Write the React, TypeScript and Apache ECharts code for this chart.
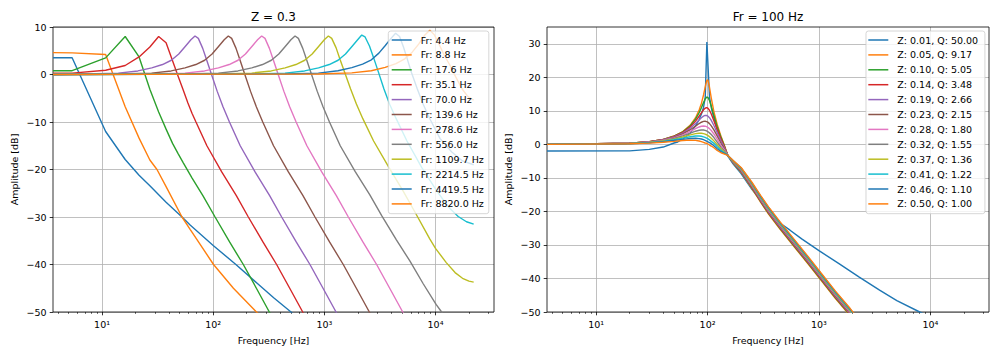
import React, { useEffect, useRef } from 'react';
import * as echarts from 'echarts';

const FONT = 'DejaVu Sans';
const COLORS = ['#1f77b4', '#ff7f0e', '#2ca02c', '#d62728', '#9467bd', '#8c564b', '#e377c2', '#7f7f7f', '#bcbd22', '#17becf', '#1f77b4', '#ff7f0e'];

const leftTitle = 'Z = 0.3';
const rightTitle = 'Fr = 100 Hz';
const xName = 'Frequency [Hz]';
const yName = 'Amplitude [dB]';

const freqMin = 3.62;
const freqMax = 33600;
const majorFreqTicks = [10, 100, 1000, 10000];
const minorFreqTicks = [4, 5, 6, 7, 8, 9, 20, 30, 40, 50, 60, 70, 80, 90, 200, 300, 400, 500, 600, 700, 800, 900, 2000, 3000, 4000, 5000, 6000, 7000, 8000, 9000, 20000, 30000];
const leftYTicks = [-50, -40, -30, -20, -10, 0, 10];
const rightYTicks = [-50, -40, -30, -20, -10, 0, 10, 20, 30];

const leftLabels = ['Fr: 4.4 Hz', 'Fr: 8.8 Hz', 'Fr: 17.6 Hz', 'Fr: 35.1 Hz', 'Fr: 70.0 Hz', 'Fr: 139.6 Hz', 'Fr: 278.6 Hz', 'Fr: 556.0 Hz', 'Fr: 1109.7 Hz', 'Fr: 2214.5 Hz', 'Fr: 4419.5 Hz', 'Fr: 8820.0 Hz'];
const rightLabels = ['Z: 0.01, Q: 50.00', 'Z: 0.05, Q: 9.17', 'Z: 0.10, Q: 5.05', 'Z: 0.14, Q: 3.48', 'Z: 0.19, Q: 2.66', 'Z: 0.23, Q: 2.15', 'Z: 0.28, Q: 1.80', 'Z: 0.32, Q: 1.55', 'Z: 0.37, Q: 1.36', 'Z: 0.41, Q: 1.22', 'Z: 0.46, Q: 1.10', 'Z: 0.50, Q: 1.00'];

// ---- Left panel: [frequency Hz, amplitude dB]
const fr4_4 = [[3.62, 3.54], [5.38, 3.54], [10.77, -12.0], [16.15, -17.9], [21.53, -21.2], [26.92, -23.4], [37.68, -26.9], [52.4, -30.0], [62, -31.7], [100, -36.0], [160, -40.0], [250, -44.0], [350, -47.0], [501, -50.0], [700, -52.9]];
const fr8_8 = [[3.62, 4.6], [5.38, 4.55], [10.77, 4.2], [16.15, -6.8], [21.53, -13.4], [26.92, -18.0], [31.2, -20.0], [37.68, -23.6], [52.4, -30.0], [62, -32.6], [75, -35.5], [100.7, -40.0], [152, -45.0], [245, -50.0], [320, -52.5]];
const fr17_6 = [[3.62, 0.8], [5.38, 0.8], [10.77, 3.5], [16.15, 8.0], [21.53, 3.7], [26.92, -3.1], [32.3, -7.9], [37.68, -11.5], [43.07, -14.5], [48.45, -16.7], [53.83, -18.6], [64.6, -21.8], [80.75, -25.5], [104, -30.0], [140.8, -35.3], [186.6, -40.0], [244.6, -45.0], [320, -50.0], [440, -55.5]];
const fr35_1 = [[3.62, 0.3], [5.38, 0.3], [10.77, 0.9], [16.15, 1.9], [21.53, 3.7], [26.92, 5.8], [32.3, 8.0], [37.68, 6.7], [43.07, 2.9], [48.45, -0.4], [53.83, -3.3], [59.22, -6.0], [64.6, -8.2], [69.98, -10.0], [87.75, -15.0], [119.3, -20.5], [161.5, -25.5], [207, -30.0], [281, -35.3], [372, -40.0], [488, -45.0], [639, -50.0], [877, -55.5]];
const fr70 = [[3.62, 0.0], [7, 0.1], [14, 0.3], [21, 0.75], [28, 1.4], [35, 2.1], [42, 3.0], [49, 4.3], [56, 5.9], [63, 7.3], [68.6, 8.1], [73.5, 7.6], [80.5, 5.5], [87.5, 3.0], [96.6, 0.0], [108.5, -3.5], [122.5, -6.8], [140, -10.0], [175, -15.0], [238, -20.5], [322, -25.5], [413, -30.0], [560, -35.3], [742, -40.0], [973, -45.0], [1274, -50.0], [1750, -55.5]];
const fr139_6 = [[3.62, 0.0], [14, 0.1], [27.9, 0.3], [41.9, 0.75], [55.8, 1.4], [69.8, 2.1], [83.8, 3.0], [97.7, 4.3], [111.7, 5.9], [125.6, 7.3], [136.8, 8.1], [146.6, 7.6], [160.5, 5.5], [174.5, 3.0], [192.6, 0.0], [216.4, -3.5], [244.3, -6.8], [279.2, -10.0], [349, -15.0], [474.6, -20.5], [642.2, -25.5], [823.6, -30.0], [1116.8, -35.3], [1479.8, -40.0], [1940.4, -45.0], [2540.7, -50.0], [3490, -55.5]];
const fr278_6 = [[3.62, 0.0], [27.9, 0.1], [55.7, 0.3], [83.6, 0.75], [111.4, 1.4], [139.3, 2.1], [167.2, 3.0], [195, 4.3], [222.9, 5.9], [250.7, 7.3], [273, 8.1], [292.5, 7.6], [320.4, 5.5], [348.3, 3.0], [384.5, 0.0], [431.8, -3.5], [487.6, -6.8], [557.2, -10.0], [696.5, -15.0], [947.2, -20.5], [1281.6, -25.5], [1643.7, -30.0], [2228.8, -35.3], [2953, -40.0], [3872.5, -45.0], [5070.5, -50.0], [6965, -55.5]];
const fr556 = [[3.62, 0.0], [55.6, 0.1], [111.2, 0.3], [166.8, 0.75], [222.4, 1.4], [278, 2.1], [333.6, 3.0], [389.2, 4.3], [444.8, 5.9], [500.4, 7.3], [544.9, 8.1], [583.8, 7.6], [639.4, 5.5], [695, 3.0], [767.3, 0.0], [861.8, -3.5], [973, -6.8], [1112, -10.0], [1390, -15.0], [1890, -20.4], [2558, -25.3], [3280, -29.7], [4448, -34.8], [5894, -39.3], [7728, -44.0], [10119, -48.4], [11350, -50.0], [14000, -53.0]];
const fr1109_7 = [[3.62, 0.0], [111, 0.1], [222, 0.3], [333, 0.75], [443.9, 1.4], [554.9, 2.1], [665.8, 3.0], [776.8, 4.3], [887.8, 5.9], [998.7, 7.3], [1087.5, 8.1], [1165.2, 7.6], [1276.2, 5.6], [1387.1, 3.1], [1531, 0.3], [1720, -3.0], [1942, -6.2], [2219, -9.3], [2774, -14.0], [3773, -19.4], [5105, -24.5], [6547, -29.0], [8878, -34.6], [10000, -36.6], [12500, -39.6], [15000, -41.7], [17500, -42.9], [20000, -43.5], [22050, -43.7]];
const fr2214_5 = [[3.62, 0.0], [221, 0.1], [443, 0.3], [664, 0.75], [886, 1.4], [1107, 2.1], [1329, 3.0], [1550, 4.3], [1772, 5.9], [1993, 7.3], [2170, 8.3], [2325, 7.9], [2547, 6.0], [2768, 3.6], [3056, 0.6], [3432, -3.0], [3875, -6.3], [4429, -9.3], [5536, -14.0], [7529, -19.6], [10187, -24.4], [13066, -27.9], [16000, -29.9], [19000, -31.0], [22050, -31.5]];
const fr4419_5 = [[3.62, 0.0], [442, 0.1], [884, 0.3], [1326, 0.8], [1768, 1.45], [2210, 2.2], [2652, 3.1], [3094, 4.5], [3536, 6.1], [3978, 7.6], [4375, 8.7], [4750, 8.0], [5150, 5.8], [5550, 3.4], [6100, 0.3], [6850, -3.0], [7730, -6.2], [8840, -9.2], [11000, -13.5], [14000, -16.3], [17500, -18.2], [22050, -19.0]];
const fr8820 = [[3.62, 0.0], [882, 0.1], [1764, 0.35], [2646, 0.8], [3528, 1.5], [4410, 2.3], [5292, 3.3], [6174, 4.7], [7056, 6.4], [7938, 8.2], [8890, 9.3], [9800, 8.3], [10800, 6.3], [12000, 4.0], [13460, 2.0], [15200, -0.5], [17300, -3.0], [19500, -4.6], [22050, -5.4]];

// ---- Right panel
const z001 = [[3.62, -2.0], [20, -1.95], [30, -1.5], [40, -0.8], [50, 0.4], [54, 0.7], [60, 1.6], [70, 3.4], [78, 5.5], [84, 7.4], [88, 9.0], [92, 11.0], [95.3, 14.0], [98.6, 30.5], [104.2, 14.0], [108, 11.0], [114, 7.8], [122, 4.4], [132, 1.4], [142, -1.0], [152, -3.5], [170, -5.9], [200, -8.7], [250, -13.4], [300, -16.8], [354, -20.1], [414, -22.7], [550, -25.6], [700, -28.2], [1000, -31.7], [1500, -35.5], [2300, -39.6], [3500, -43.5], [5000, -46.6], [8020, -50.0], [10000, -51.5]];

const rightFreqs = [3.62, 20, 30, 40, 50, 60, 70, 78, 84, 88, 92, 95, 98, 99.5, 101, 104, 108, 114, 122, 132, 142, 152, 170, 200, 250, 300, 354, 450, 612, 800, 1040, 1400, 1900, 2500];
const z005 = [0, 0.35, 0.81, 1.50, 2.48, 3.83, 5.75, 7.95, 10.22, 12.21, 14.73, 16.94, 18.87, 19.26, 19.02, 17.10, 13.81, 9.78, 5.91, 2.43, -0.4, -3.3, -5.55, -8.3, -13.1, -17.3, -20.9, -25.4, -30.9, -35.7, -40.5, -45.9, -51.1, -56.1];
const z010 = [0, 0.35, 0.80, 1.48, 2.42, 3.73, 5.54, 7.52, 9.42, 10.90, 12.45, 13.47, 14.06, 14.09, 13.93, 13.08, 11.34, 8.51, 5.27, 2.08, -0.6, -3.3, -5.48, -8.16, -12.92, -17.1, -20.68, -25.18, -30.68, -35.48, -40.28, -45.68, -50.88, -55.88];
const z014 = [0, 0.34, 0.78, 1.43, 2.34, 3.57, 5.22, 6.92, 8.39, 9.40, 10.30, 10.76, 10.93, 10.87, 10.73, 10.18, 9.07, 7.06, 4.42, 1.58, -0.8, -3.3, -5.41, -8.02, -12.74, -16.9, -20.46, -24.96, -30.46, -35.26, -40.06, -45.46, -50.66, -55.66];
const z019 = [0, 0.33, 0.75, 1.38, 2.23, 3.37, 4.82, 6.21, 7.29, 7.94, 8.43, 8.62, 8.61, 8.53, 8.39, 7.96, 7.14, 5.62, 3.47, 0.98, -1.1, -3.3, -5.34, -7.88, -12.56, -16.7, -20.24, -24.74, -30.24, -35.04, -39.84, -45.24, -50.44, -55.44];
const z023 = [0, 0.31, 0.72, 1.31, 2.10, 3.12, 4.36, 5.45, 6.21, 6.60, 6.84, 6.88, 6.79, 6.69, 6.55, 6.18, 5.52, 4.30, 2.51, 0.32, -1.4, -3.3, -5.27, -7.74, -12.38, -16.5, -20.02, -24.52, -30.02, -34.82, -39.62, -45.02, -50.22, -55.22];
const z028 = [0, 0.30, 0.68, 1.22, 1.94, 2.84, 3.86, 4.68, 5.18, 5.39, 5.47, 5.42, 5.27, 5.16, 5.03, 4.69, 4.13, 3.10, 1.57, -0.36, -1.7, -3.3, -5.2, -7.6, -12.2, -16.3, -19.8, -24.3, -29.8, -34.6, -39.4, -44.8, -50.0, -55.0];
const z032 = [0, 0.28, 0.63, 1.12, 1.76, 2.53, 3.34, 3.92, 4.21, 4.30, 4.27, 4.17, 3.99, 3.87, 3.74, 3.42, 2.92, 2.02, 0.68, -0.9, -2.0, -3.3, -5.13, -7.46, -12.02, -16.1, -19.58, -24.08, -29.58, -34.38, -39.18, -44.58, -49.78, -54.78];
const z037 = [0, 0.25, 0.57, 1.02, 1.57, 2.20, 2.81, 3.19, 3.32, 3.31, 3.21, 3.06, 2.86, 2.74, 2.61, 2.31, 1.84, 1.04, -0.1, -1.4, -2.3, -3.3, -5.06, -7.32, -11.84, -15.9, -19.36, -23.86, -29.36, -34.16, -38.96, -44.36, -49.56, -54.56];
const z041 = [0, 0.23, 0.51, 0.90, 1.36, 1.85, 2.28, 2.49, 2.49, 2.41, 2.25, 2.08, 1.87, 1.75, 1.62, 1.32, 0.9, 0.3, -0.7, -1.8, -2.5, -3.3, -4.99, -7.18, -11.66, -15.7, -19.14, -23.64, -29.14, -33.94, -38.74, -44.14, -49.34, -54.34];
const z046 = [0, 0.20, 0.44, 0.77, 1.14, 1.50, 1.76, 1.82, 1.72, 1.59, 1.39, 1.20, 0.98, 0.85, 0.72, 0.5, 0.2, -0.4, -1.3, -2.2, -2.7, -3.3, -4.92, -7.04, -11.48, -15.5, -18.92, -23.42, -28.92, -33.72, -38.52, -43.92, -49.12, -54.12];
const z050 = [0, 0.17, 0.37, 0.63, 0.90, 1.14, 1.25, 1.18, 1.01, 0.83, 0.61, 0.40, 0.35, 0.2, 0.1, -0.2, -0.5, -1.0, -1.8, -2.5, -2.9, -3.3, -4.85, -6.9, -11.3, -15.3, -18.7, -23.2, -28.7, -33.5, -38.3, -43.7, -48.9, -53.9];

const leftCurves = [fr4_4, fr8_8, fr17_6, fr35_1, fr70, fr139_6, fr278_6, fr556, fr1109_7, fr2214_5, fr4419_5, fr8820];
const rightCurves = [z001].concat([z005, z010, z014, z019, z023, z028, z032, z037, z041, z046, z050].map((vals) => rightFreqs.map((f, j) => [f, vals[j]])));

const SUP: Record<number, string> = { 0: '\u2070', 1: '\u00b9', 2: '\u00b2', 3: '\u00b3', 4: '\u2074', 5: '\u2075' };
const fmtX = (v: number) => '10' + (SUP[Math.round(Math.log10(v))] || '');
const fmtY = (v: number) => (v < 0 ? '\u2212' + Math.abs(v) : String(v));

const textBase = { fontFamily: FONT, fontSize: 9.5, color: '#000' };

function mainX(gridIndex: number) {
  return {
    type: 'log', logBase: 10, gridIndex, min: freqMin, max: freqMax, z: 0, position: 'bottom',
    axisLine: { show: false, onZero: false },
    axisTick: { show: true, length: 3.3, customValues: majorFreqTicks, lineStyle: { color: '#000', width: 0.8 } },
    axisLabel: { ...textBase, margin: 7.5, formatter: fmtX, customValues: majorFreqTicks },
    splitLine: { show: true, lineStyle: { color: '#b0b0b0', width: 0.8 } },
    name: xName, nameLocation: 'middle', nameGap: 23, nameTextStyle: { ...textBase },
  };
}
function minorX(gridIndex: number) {
  return {
    type: 'log', logBase: 10, gridIndex, min: freqMin, max: freqMax, position: 'bottom', z: 0,
    axisLine: { show: false, onZero: false },
    axisTick: { show: true, length: 1.9, customValues: minorFreqTicks, lineStyle: { color: '#000', width: 0.6 } },
    axisLabel: { show: false },
    splitLine: { show: false },
  };
}
function mainY(gridIndex: number, max: number, ticks: number[]) {
  return {
    type: 'value', gridIndex, min: -50, max, interval: 10, z: 0,
    axisLine: { show: false, onZero: false },
    axisTick: { show: true, length: 3.3, customValues: ticks, lineStyle: { color: '#000', width: 0.8 } },
    axisLabel: { ...textBase, margin: 6.5, formatter: fmtY, customValues: ticks },
    splitLine: { show: true, lineStyle: { color: '#b0b0b0', width: 0.8 } },
    name: yName, nameLocation: 'middle', nameRotate: 90, nameGap: 33.5, nameTextStyle: { ...textBase },
  };
}

function legendFor(labels: string[], left: number, pad: number[]) {
  return {
    data: labels, orient: 'vertical', left, top: 31, padding: pad,
    itemWidth: 20, itemHeight: 1.5, itemGap: 2.9, icon: 'rect', selectedMode: false,
    backgroundColor: 'rgba(255,255,255,0.8)', borderColor: '#cccccc', borderWidth: 0.8, borderRadius: 2.5,
    textStyle: { ...textBase, lineHeight: 12, padding: [0, 0, 0, 4] },
  };
}

export default function App() {
  const ref = useRef<HTMLDivElement>(null);
  useEffect(() => {
    const chart = echarts.init(ref.current!, null, { renderer: 'svg' });
    const series: any[] = [];
    leftCurves.forEach((data, i) => {
      series.push({ type: 'line', name: leftLabels[i], xAxisIndex: 0, yAxisIndex: 0, data, showSymbol: false, symbol: 'none', lineStyle: { width: 1.4, color: COLORS[i] }, itemStyle: { color: COLORS[i] } });
    });
    rightCurves.forEach((data, i) => {
      series.push({ type: 'line', name: rightLabels[i], xAxisIndex: 1, yAxisIndex: 1, data, showSymbol: false, symbol: 'none', lineStyle: { width: 1.4, color: COLORS[i] }, itemStyle: { color: COLORS[i] } });
    });
    const option: any = {
      animation: false,
      backgroundColor: '#fff',
      grid: [
        { left: 53, top: 27, width: 441, height: 285, show: true, z: 3, borderColor: '#000', borderWidth: 0.8, backgroundColor: 'transparent', containLabel: false, outerBoundsMode: 'none' },
        { left: 547, top: 27, width: 442, height: 285, show: true, z: 3, borderColor: '#000', borderWidth: 0.8, backgroundColor: 'transparent', containLabel: false, outerBoundsMode: 'none' },
      ],
      xAxis: [mainX(0), mainX(1), minorX(0), minorX(1)],
      yAxis: [mainY(0, 10, leftYTicks), mainY(1, 35, rightYTicks)],
      legend: [legendFor(leftLabels, 388.3, [3, 5, 3.8, 3.4]), legendFor(rightLabels, 866, [3, 6.8, 3.8, 2.3])],
      graphic: [
        { type: 'text', x: 273.5, y: 16.5, style: { text: leftTitle, fontFamily: FONT, fontSize: 12, fill: '#000', align: 'center', verticalAlign: 'middle' } },
        { type: 'text', x: 768, y: 16.5, style: { text: rightTitle, fontFamily: FONT, fontSize: 12, fill: '#000', align: 'center', verticalAlign: 'middle' } },
      ],
      series,
    };
    chart.setOption(option);
    return () => chart.dispose();
  }, []);
  return <div ref={ref} style={{ position: 'fixed', left: 0, top: 0, width: 1000, height: 357, background: '#fff' }} />;
}
